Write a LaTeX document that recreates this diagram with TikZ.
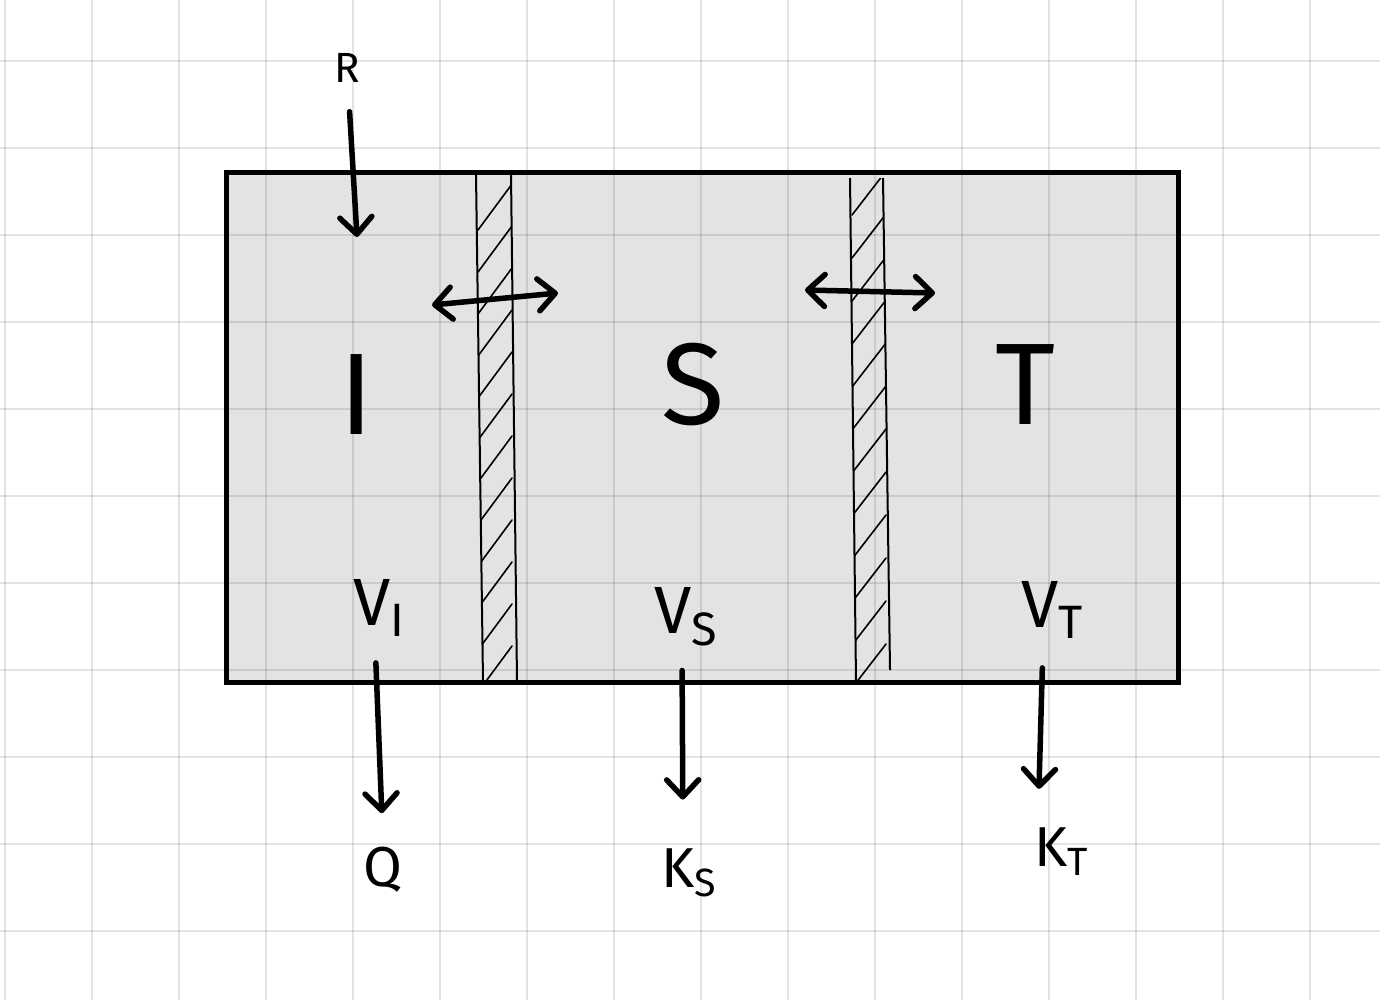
\documentclass[tikz,border=0pt]{standalone}
\usepackage{fontspec}
\setmainfont{Fira Sans}
\usetikzlibrary{arrows.meta}
\tikzset{
  gridline/.style={draw=black, opacity=0.11, line width=0.025cm},
  chamber/.style={fill=black!11},
  chamberline/.style={line width=0.05cm, line join=miter},
  wallline/.style={line width=0.02cm},
  hatch/.style={line width=0.016cm, line cap=round},
  flow/.style={
    line width=0.055cm,
    line cap=round,
    -{Straight Barb[length=1.7mm,width=3.2mm,round]},
  },
  exchange/.style={
    line width=0.055cm,
    line cap=round,
    {Straight Barb[length=1.7mm,width=3.2mm,round]}-{Straight Barb[length=1.7mm,width=3.2mm,round]},
  },
  compartment/.style={font=\fontsize{33}{33}\selectfont, inner sep=1pt},
  volume/.style={font=\fontsize{19}{19}\selectfont, inner sep=1pt},
  rate/.style={font=\fontsize{16}{16}\selectfont, inner sep=1pt},
  inflow/.style={font=\fontsize{12}{12}\selectfont, inner sep=1pt},
}

\begin{document}
\begin{tikzpicture}[x=0.01cm, y=-0.01cm]
  \useasboundingbox (0,0) rectangle (1380,1000);
  \fill[white] (0,0) rectangle (1380,1000);

  % box and squared paper
  \fill[chamber] (226,172) rectangle (1178,682);
  \foreach \i in {0,...,15}
    \draw[gridline] (5+87*\i,0) -- (5+87*\i,1000);
  \foreach \j in {0,...,10}
    \draw[gridline] (0,61+87*\j) -- (1380,61+87*\j);
  \draw[chamberline] (226,172) rectangle (1178,682);

  % walls
  \begin{scope}
    \clip (476,175) -- (511,175) -- (517,682) -- (483,682) -- cycle;
    \foreach \y in {230,272,...,720}
      \draw[hatch] (478,\y) -- (512,\y-46);
  \end{scope}
  \draw[wallline] (476,175) -- (483,682);
  \draw[wallline] (511,175) -- (517,682);
  \begin{scope}
    \clip (850,178) -- (883,178) -- (890,675) -- (856,682) -- cycle;
    \foreach \y in {215,258,...,720}
      \draw[hatch] (852,\y) -- (886,\y-44);
  \end{scope}
  \draw[wallline] (850,178) -- (856,682);
  \draw[wallline] (883,178) -- (890,670);

  % compartments
  \node[compartment] (I) at (357,395) {I};
  \node[compartment] (S) at (693,385) {S};
  \node[compartment] (T) at (1025,385) {T};

  \node[volume] (VI) at (380,608) {V\textsubscript{I}};
  \node[volume] (VS) at (687,617) {V\textsubscript{S}};
  \node[volume] (VT) at (1053,610) {V\textsubscript{T}};

  \node[inflow] (R) at (347,68) {R};
  \node[rate] (Q) at (383,870) {Q};
  \node[rate] (KS) at (690,873) {K\textsubscript{S}};
  \node[rate] (KT) at (1062,852) {K\textsubscript{T}};

  % exchange across the walls
  \coordinate (IS1) at (432,305);
  \coordinate (IS2) at (558,293);
  \coordinate (ST1) at (805,290);
  \coordinate (ST2) at (935,293);
  \draw[exchange] (IS1) -- (IS2);
  \draw[exchange] (ST1) -- (ST2);

  % in and out
  \coordinate (Rend) at (357,237);
  \draw[flow, shorten <=0.25cm] (R) -- (Rend);
  \draw[flow, shorten <=0.22cm, shorten >=0.3cm] ([xshift=-0.05cm]VI.south) -- (Q.north);
  \draw[flow, shorten <=0.2cm, shorten >=0.45cm] ([xshift=-0.05cm]VS.south) -- ([xshift=-0.07cm]KS.north);
  \draw[flow, shorten <=0.25cm, shorten >=0.35cm] ([xshift=-0.1cm]VT.south) -- ([xshift=-0.24cm]KT.north);
\end{tikzpicture}
\end{document}
